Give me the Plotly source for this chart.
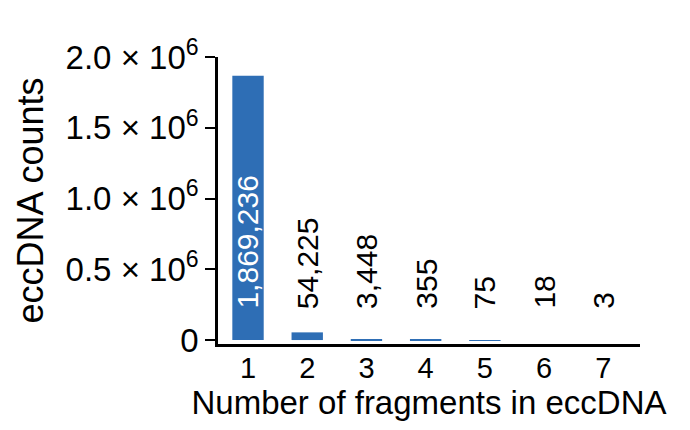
import plotly.graph_objects as go

fragments = [1, 2, 3, 4, 5, 6, 7]
counts = [1869236, 54225, 3448, 355, 75, 18, 3]
ytick_vals = [0, 0.5e6, 1.0e6, 1.5e6, 2.0e6]
ytick_text = ["0", "0.5 × 10<sup>6</sup>", "1.0 × 10<sup>6</sup>",
              "1.5 × 10<sup>6</sup>", "2.0 × 10<sup>6</sup>"]

FONT = "Liberation Sans, Arial, Helvetica, sans-serif"
BLUE = "#2E6EB5"
LABEL_Y = 0.205e6

fig = go.Figure()
fig.add_trace(go.Bar(x=fragments, y=counts, marker=dict(color=BLUE, line=dict(width=0)),
                     width=0.53, hoverinfo="x+y"))

for f, c in zip(fragments, counts):
    fig.add_annotation(
        x=f, y=LABEL_Y, xref="x", yref="y",
        text=f"{c:,}", textangle=-90, showarrow=False,
        xanchor="center", yanchor="bottom",
        font=dict(family=FONT, size=30, color="white" if c > LABEL_Y else "black"),
    )

fig.update_layout(
    width=690, height=430,
    margin=dict(l=218, r=50, t=57, b=86),
    paper_bgcolor="white", plot_bgcolor="white",
    showlegend=False,
    font=dict(family=FONT, color="black"),
)
fig.update_xaxes(
    range=[0.493, 7.62], tickmode="array", tickvals=fragments,
    ticktext=[str(f) for f in fragments],
    showline=True, linecolor="black", linewidth=3, ticks="", ticklen=0,
    ticklabelstandoff=-4,
    showgrid=False, zeroline=False,
    tickfont=dict(family=FONT, size=29),
    title=dict(text="Number of fragments in eccDNA", font=dict(family=FONT, size=33), standoff=8),
)
fig.update_yaxes(
    range=[-0.028e6, 2.001e6], tickmode="array", tickvals=ytick_vals, ticktext=ytick_text,
    showline=True, linecolor="black", linewidth=2.5, ticks="outside", ticklen=10,
    tickwidth=2, tickcolor="black", showgrid=False, zeroline=False,
    tickfont=dict(family=FONT, size=33),
    title=dict(text="eccDNA counts", font=dict(family=FONT, size=36), standoff=12),
)

fig.write_html("out.html", config={"displayModeBar": False},
               post_script=["document.body.style.margin='0';"])
